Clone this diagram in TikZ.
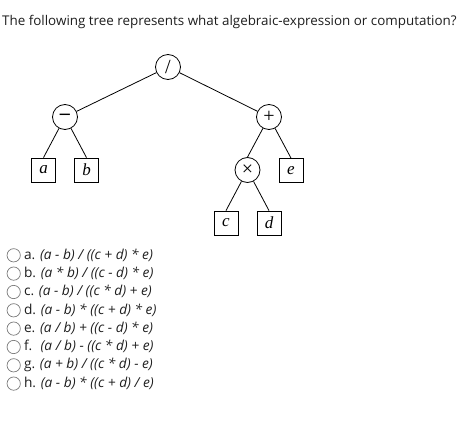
\documentclass[tikz,border=0pt]{standalone}
\usepackage{fontspec}
\setmainfont{Open Sans}
\newfontfamily\treefont{Liberation Serif}
\definecolor{txt}{HTML}{1E1E1E}
\definecolor{radiogray}{HTML}{7A7A7A}
\begin{document}
\begin{tikzpicture}[x=1pt,y=-1pt,
 op/.style={draw, circle, minimum size=25pt, inner sep=0pt, line width=0.8pt, font=\treefont\fontsize{20}{20}\selectfont},
 leaf/.style={draw, minimum width=24pt, minimum height=24pt, inner sep=0pt, line width=0.8pt, font=\treefont\itshape\fontsize{17}{17}\selectfont},
 edge/.style={line width=0.8pt},
 radio/.style={draw=radiogray, circle, minimum size=13.3pt, inner sep=0pt, line width=0.7pt},
 opt/.style={anchor=west, inner sep=0pt, text=txt, font=\fontsize{13.7}{15}\selectfont}]
\useasboundingbox (0,0) rectangle (464,423);
\node[anchor=west, inner sep=0pt, text=txt, font=\fontsize{13.4}{15}\selectfont] (title) at (2,22) {The following tree represents what algebraic-expression or computation?};
% tree
\node[op] (div) at (168,67) {/};
\node[op] (minus) at (65,117) {\textbf{–}};
\node[op] (plus) at (269,117) {+};
\node[op] (times) at (247.5,170) {×};
\node[leaf] (a) at (43.5,170) {a};
\node[leaf] (b) at (86.5,170) {b};
\node[leaf] (e) at (291,170.5) {e};
\node[leaf] (c) at (226,223) {c};
\node[leaf] (d) at (269,223) {d};
\draw[edge] (div) -- (minus);
\draw[edge] (div) -- (plus);
\draw[edge] (minus) -- (a.north);
\draw[edge] (minus) -- (b.north);
\draw[edge] (plus) -- (times.north);
\draw[edge] (plus) -- (e.north);
\draw[edge] (times) -- (c.north);
\draw[edge] (times) -- (d.north);
% options
\node[radio] (ra) at (13.7,255.3) {};
\node[opt] (oa) at (23.8,255) {a. \textit{(a - b) / ((c + d) * e)}};
\node[radio] (rb) at (13.7,273.6) {};
\node[opt] (ob) at (23.8,273.3) {b. \textit{(a * b) / ((c - d) * e)}};
\node[radio] (rc) at (13.7,292) {};
\node[opt] (oc) at (23.8,291.7) {c. \textit{(a - b) / ((c * d) + e)}};
\node[radio] (rd) at (13.7,310.3) {};
\node[opt] (od) at (23.8,310) {d. \textit{(a - b) * ((c + d) * e)}};
\node[radio] (re) at (13.7,328.6) {};
\node[opt] (oe) at (23.8,328.3) {e. \textit{(a / b) + ((c - d) * e)}};
\node[radio] (rf) at (13.7,347) {};
\node[opt] (of) at (23.8,346.7) {f. \ \textit{(a / b) - ((c * d) + e)}};
\node[radio] (rg) at (13.7,365.3) {};
\node[opt] (og) at (23.8,365) {g. \textit{(a + b) / ((c * d) - e)}};
\node[radio] (rh) at (13.7,383.6) {};
\node[opt] (oh) at (23.8,383.3) {h. \textit{(a - b) * ((c + d) / e)}};
\end{tikzpicture}
\end{document}
